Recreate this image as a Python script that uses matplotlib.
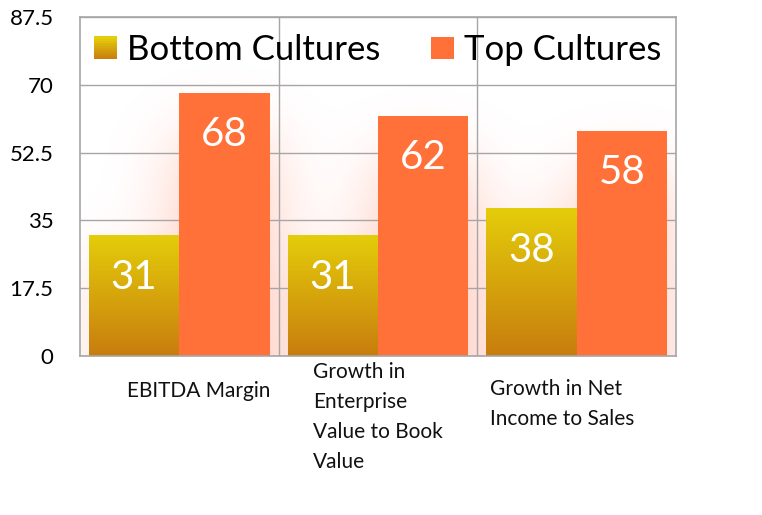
import matplotlib
matplotlib.use("Agg")
import matplotlib.pyplot as plt
import numpy as np
from matplotlib.legend_handler import HandlerBase
from matplotlib.patches import Rectangle, Patch
from matplotlib.transforms import blended_transform_factory

categories = ["EBITDA Margin",
              "Growth in\nEnterprise\nValue to Book\nValue",
              "Growth in Net\nIncome to Sales"]
series_names = ["Bottom Cultures", "Top Cultures"]
bottom_vals = [31, 31, 38]
top_vals = [68, 62, 58]
yticks = [0, 17.5, 35, 52.5, 70, 87.5]
ytick_labels = ["0", "17.5", "35", "52.5", "70", "87.5"]

plt.rcParams["font.family"] = ["Lato", "DejaVu Sans"]

ORANGE = "#FF7139"
GOLD_TOP = np.array([228, 205, 10]) / 255
GOLD_BOT = np.array([200, 125, 14]) / 255
GRID = "#A6A6A6"

fig = plt.figure(figsize=(7.62, 5.15), dpi=100)
ax = fig.add_axes([80 / 762, 1 - 356 / 515, 596 / 762, 339 / 515])

x = np.arange(len(categories))
w = 0.455
ymax = yticks[-1]

# soft glow behind the bars
gx = np.linspace(-0.5, 2.5, 600)
gy = np.linspace(0, ymax, 340)
GX, GY = np.meshgrid(gx, gy)
mask = np.zeros_like(GX)
for xi, v in zip(x, top_vals):
    mask[(GX >= xi) & (GX <= xi + w) & (GY <= v - 12)] = 1.0
for xi, v in zip(x, bottom_vals):
    mask[(GX >= xi - w) & (GX <= xi) & (GY <= v - 6)] = 0.5


def blur(a, sigma, axis):
    k = np.arange(-3 * sigma, 3 * sigma + 1)
    kern = np.exp(-k ** 2 / (2 * sigma ** 2))
    kern /= kern.sum()
    pad = [(0, 0), (0, 0)]
    pad[axis] = (len(k) // 2, len(k) // 2)
    ap = np.pad(a, pad, mode="edge" if axis == 0 else "constant")
    return np.apply_along_axis(lambda r: np.convolve(r, kern, mode="valid"), axis, ap)


glow = blur(blur(mask, 34, 1), 34, 0)
rgba = np.zeros(glow.shape + (4,))
rgba[..., 0] = 1.0
rgba[..., 1] = 0.50
rgba[..., 2] = 0.36
rgba[..., 3] = np.clip(glow * 0.42, 0, 0.36)
ax.imshow(rgba, extent=(-0.5, 2.5, 0, ymax), origin="lower", aspect="auto",
          zorder=0.5, interpolation="bilinear")

# gradient image for the bottom-cultures bars
grad = np.linspace(0, 1, 256)[:, None]
grad_img = (GOLD_BOT[None, None, :] * (1 - grad[..., None])
            + GOLD_TOP[None, None, :] * grad[..., None])

bars_b = ax.bar(x - w / 2, bottom_vals, w, color="none", zorder=2)
for b in bars_b:
    x0, y0 = b.get_x(), b.get_y()
    ax.imshow(grad_img, extent=(x0, x0 + b.get_width(), y0, y0 + b.get_height()),
              origin="lower", aspect="auto", zorder=2, interpolation="bilinear")
bars_t = ax.bar(x + w / 2, top_vals, w, color=ORANGE, zorder=2)

for bars, vals in ((bars_b, bottom_vals), (bars_t, top_vals)):
    for b, v in zip(bars, vals):
        ax.annotate(str(v), (b.get_x() + b.get_width() / 2, v),
                    xytext=(0, -30), textcoords="offset points",
                    ha="center", va="center", color="white", fontsize=29, zorder=3)

ax.set_xlim(-0.5, 2.5)
ax.set_ylim(0, ymax)
ax.set_yticks(yticks)
ax.set_yticklabels(ytick_labels, fontsize=16)
ax.set_xticks([])
ax.tick_params(axis="y", length=0, pad=19)
for y in yticks:
    ax.axhline(y, color=GRID, lw=1, zorder=1)
for xv in (0.5, 1.5):
    ax.axvline(xv, color=GRID, lw=1, zorder=1)
for s in ax.spines.values():
    s.set_color(GRID)
    s.set_linewidth(1.2)

# category labels below the plot
trans = blended_transform_factory(ax.transData, ax.transAxes)
label_pos = [(-0.265, -0.073), (0.673, -0.018), (1.563, -0.068)]
for lab, (lx, ly) in zip(categories, label_pos):
    ax.text(lx, ly, lab, transform=trans, ha="left", va="top",
            fontsize=15, linespacing=1.62, color="#111111")


class GradHandler(HandlerBase):
    def create_artists(self, legend, orig, xd, yd, width, height, fontsize, trans):
        n = 12
        s = min(width, height)
        arts = []
        for i in range(n):
            t = i / (n - 1)
            c = GOLD_BOT * (1 - t) + GOLD_TOP * t
            arts.append(Rectangle((-xd + (width - s) / 2, -yd + (height - s) / 2 + i * s / n),
                                  s, s / n + 0.3, facecolor=c, edgecolor="none",
                                  transform=trans))
        return arts


class SquareHandler(HandlerBase):
    def create_artists(self, legend, orig, xd, yd, width, height, fontsize, trans):
        s = min(width, height)
        return [Rectangle((-xd + (width - s) / 2, -yd + (height - s) / 2), s, s,
                          facecolor=ORANGE, edgecolor="none", transform=trans)]


h_b = Patch(label=series_names[0])
h_t = Patch(label=series_names[1])
ax.legend([h_b, h_t], series_names, handler_map={h_b: GradHandler(), h_t: SquareHandler()},
          loc="upper center", bbox_to_anchor=(0.5, 1.0), ncol=2, frameon=False,
          fontsize=25, handlelength=0.65, handleheight=0.65, handletextpad=0.3,
          columnspacing=1.45, borderaxespad=0.1)

fig.savefig("out.png", dpi=100)
